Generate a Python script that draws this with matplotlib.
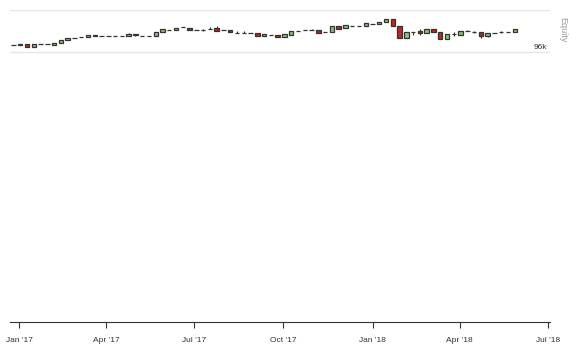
import pandas as pd
import numpy as np
import matplotlib
matplotlib.use("Agg")
import matplotlib.pyplot as plt
import matplotlib.dates as mdates

# weekly equity candles
weeks = pd.date_range("2016-12-26", periods=75, freq="7D")

open_ = [96200, 96250, 96300, 95970, 96300, 96280, 96200, 96370, 96670, 96920,
         96960, 96970, 97150, 97100, 97100, 97100, 97100, 97070, 97290, 97150,
         97100, 97100, 97470, 97720, 97670, 97970, 97930, 97730, 97730, 97820,
         97900, 97670, 97670, 97410, 97410, 97420, 97370, 97070, 97210, 97200,
         96970, 97230, 97610, 97730, 97670, 97700, 97510, 97530, 98100, 97870,
         98110, 98070, 98070, 98310, 98270, 98470, 98800, 98100, 96930, 97530,
         97630, 97430, 97770, 97470, 96830, 97270, 97200, 97600, 97500, 97470,
         97100, 97430, 97470, 97470, 97470]
close = [96210, 96300, 95970, 96300, 96310, 96320, 96430, 96670, 96870, 96940,
         96980, 97200, 97190, 97100, 97100, 97100, 97100, 97300, 97250, 97110,
         97100, 97470, 97770, 97750, 97930, 97970, 97670, 97730, 97730, 97850,
         97630, 97670, 97470, 97450, 97450, 97440, 97070, 97300, 97250, 96970,
         97300, 97600, 97650, 97730, 97730, 97430, 97550, 98100, 97830, 98200,
         98150, 98070, 98400, 98350, 98500, 98770, 98100, 96930, 97530, 97550,
         97370, 97770, 97470, 96770, 97300, 97270, 97570, 97620, 97500, 97100,
         97400, 97430, 97470, 97470, 97770]
high = [96210, 96300, 96300, 96300, 96310, 96320, 96430, 96670, 96870, 96940,
        96980, 97200, 97190, 97100, 97100, 97100, 97100, 97400, 97290, 97150,
        97100, 97470, 97770, 97750, 97930, 97970, 97930, 97730, 97800, 98000,
        98100, 97670, 97670, 97570, 97570, 97440, 97370, 97300, 97250, 97200,
        97300, 97600, 97650, 97730, 97800, 97700, 97550, 98100, 98100, 98200,
        98150, 98070, 98400, 98350, 98500, 98770, 98800, 98100, 97530, 97550,
        97800, 97770, 97770, 97470, 97300, 97470, 97570, 97700, 97630, 97470,
        97400, 97430, 97570, 97470, 97770]
low = [96200, 96250, 95970, 95970, 96300, 96280, 96200, 96370, 96670, 96920,
       96960, 96970, 97150, 97100, 97100, 97100, 97100, 97070, 97070, 97110,
       97100, 97100, 97470, 97720, 97670, 97970, 97670, 97730, 97600, 97770,
       97630, 97670, 97470, 97410, 97410, 97420, 97070, 97070, 97210, 96970,
       96970, 97230, 97610, 97730, 97670, 97430, 97510, 97530, 97830, 97870,
       98110, 98070, 98070, 98310, 98270, 98470, 98100, 96930, 96930, 97200,
       97230, 97430, 97470, 96770, 96830, 97100, 97200, 97600, 97370, 96930,
       96970, 97430, 97370, 97470, 97470]

tick_dates = ["2017-01-01", "2017-04-01", "2017-07-01", "2017-10-01",
              "2018-01-01", "2018-04-01", "2018-07-01"]

plt.rcParams["font.family"] = ["Liberation Sans", "DejaVu Sans"]

fig = plt.figure(figsize=(5.8, 3.6), dpi=100)
ax = fig.add_axes([10 / 580, (360 - 322) / 360, 540 / 580, 312 / 360])

o = np.array(open_)
c = np.array(close)
up = c > o
down = c < o
colors = np.where(up, "#8cc176", np.where(down, "#c0261a", "#555555"))

x = mdates.date2num(weeks)
ax.vlines(x, low, high, color="#333333", linewidth=0.8, zorder=2)
ax.bar(x, c - o, bottom=o, width=4.6, color=colors, edgecolor="#333333",
       linewidth=0.9, zorder=3)

# panel border lines + equity label
ax.axhline(99700, color="#e6e6e6", linewidth=1, zorder=1)
ax.axhline(95500, color="#e6e6e6", linewidth=1, zorder=1)
ax.text(0.9945, 96000, "96k", transform=ax.get_yaxis_transform(),
        ha="right", va="center", fontsize=6, color="#333333")
fig.text(563 / 580, 1 - 30 / 360, "Equity", rotation=270, ha="center",
         va="center", fontsize=6.5, color="#999999")

ax.set_xlim(pd.Timestamp("2016-12-22 10:00"), pd.Timestamp("2018-07-03 10:00"))
ax.set_ylim(99700 - 312 * 100, 99700)

ax.set_xticks(mdates.date2num(pd.to_datetime(tick_dates)))
ax.xaxis.set_major_formatter(mdates.DateFormatter("%b '%y"))
ax.tick_params(axis="x", direction="out", length=4.5, width=0.8,
               color="#333333", labelsize=6, labelcolor="#333333", pad=6.5)
ax.set_yticks([])
for side in ["left", "right", "top"]:
    ax.spines[side].set_visible(False)
ax.spines["bottom"].set_color("#333333")
ax.spines["bottom"].set_linewidth(0.8)

plt.savefig("out.png", dpi=100)
